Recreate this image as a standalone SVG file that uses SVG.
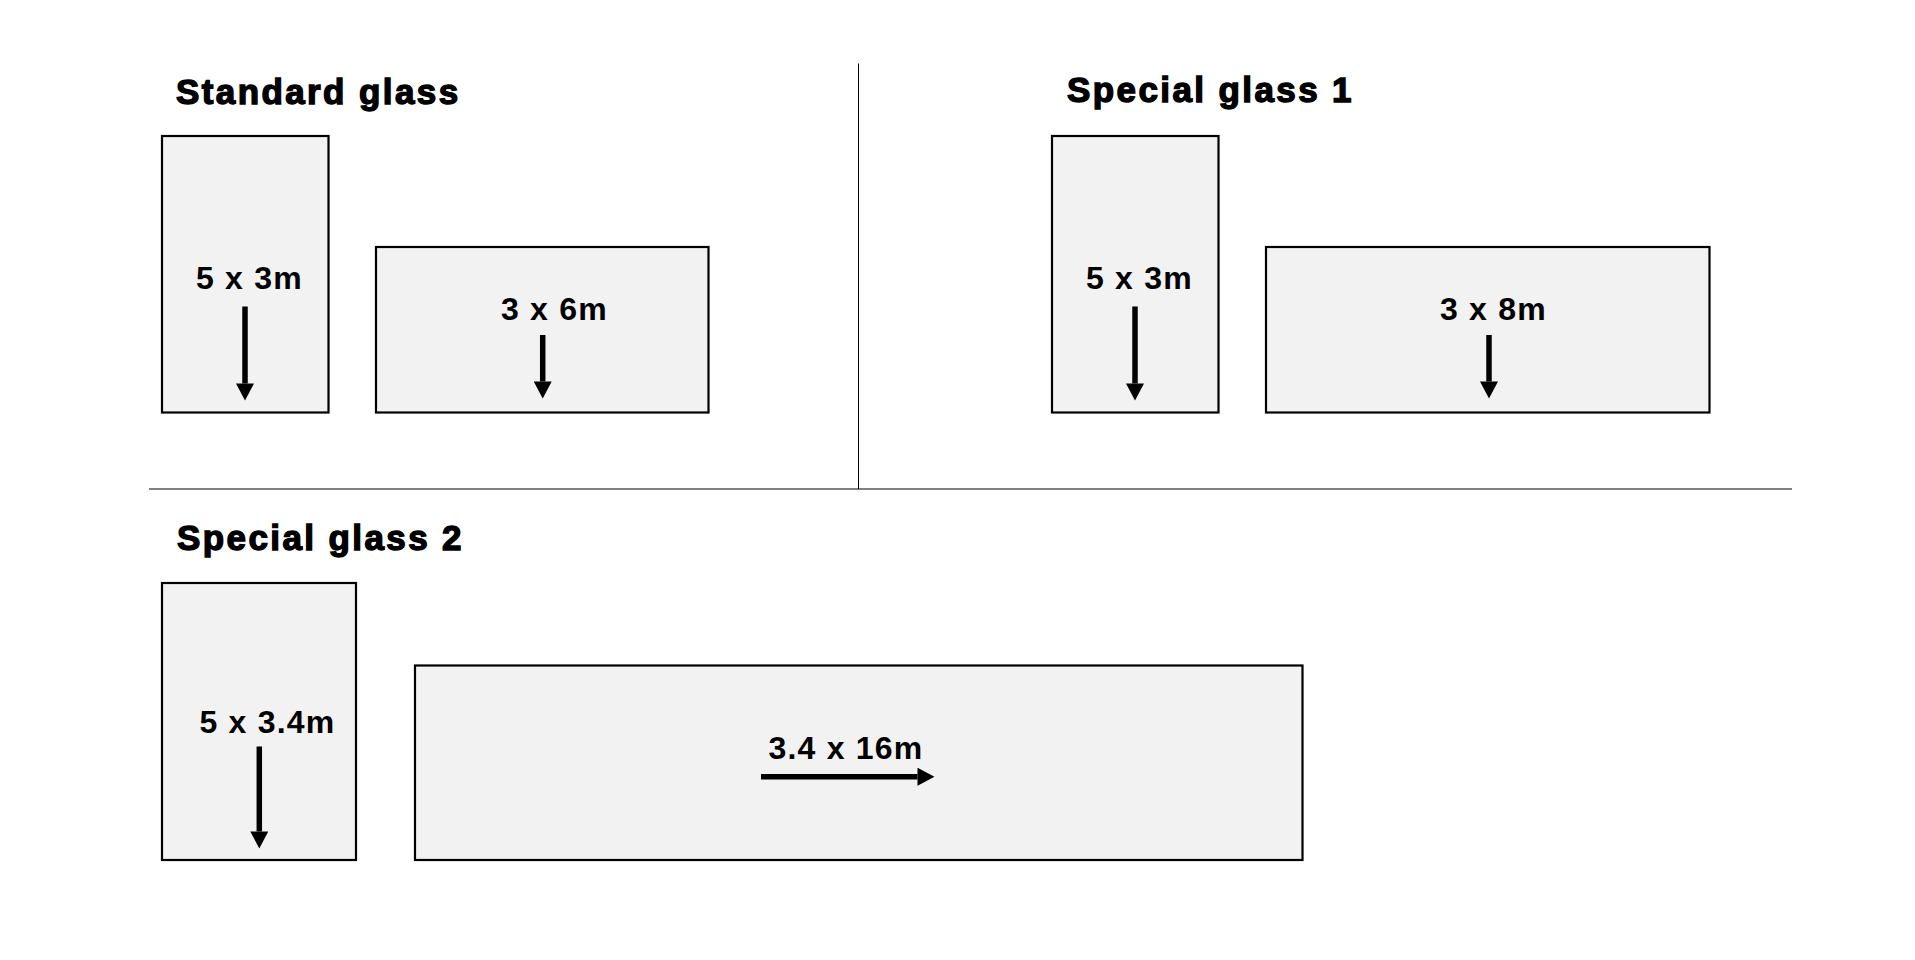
<svg xmlns="http://www.w3.org/2000/svg" width="1915" height="960" viewBox="0 0 1915 960">
  <style>
    .pane { fill: #f2f2f2; stroke: #000; stroke-width: 2.2; }
    .title { font-family: "Liberation Sans", Arial, sans-serif; font-weight: bold; font-size: 35px; letter-spacing: 2.4px; fill: #000; stroke: #000; stroke-width: 1.4; }
    .label { font-family: "Liberation Sans", Arial, sans-serif; font-weight: bold; font-size: 32px; letter-spacing: 1.2px; fill: #000; }
    .shaft { stroke: #000; stroke-width: 5.5; fill: none; marker-end: url(#head); }
    .divider { stroke: #000; stroke-width: 1; fill: none; }
  </style>
  <defs>
    <marker id="head" markerUnits="userSpaceOnUse" markerWidth="18" markerHeight="18" refX="0" refY="9" orient="auto" viewBox="0 0 17 18">
      <path d="M0,0 L17,9 L0,18 Z" fill="#000"/>
    </marker>
  </defs>
  <rect width="1915" height="960" fill="#fff"/>

  <g id="dividers">
    <line class="divider" x1="858.5" y1="63.5" x2="858.5" y2="489"/>
    <line class="divider" x1="149" y1="489" x2="1792" y2="489"/>
  </g>

  <g id="title-standard">
    <text class="title" x="176" y="104">Standard glass</text>
  </g>
  <g id="title-special1">
    <text class="title" x="1067" y="101.5">Special glass 1</text>
  </g>
  <g id="title-special2">
    <text class="title" x="177" y="550">Special glass 2</text>
  </g>

  <g id="std-pane-5x3">
    <rect class="pane" x="162" y="136" width="166.5" height="276.5"/>
    <text class="label" x="196" y="288.5">5 x 3m</text>
    <line class="shaft" x1="245" y1="306.5" x2="245" y2="383.5"/>
  </g>
  <g id="std-pane-3x6">
    <rect class="pane" x="376" y="247" width="332.5" height="165.5"/>
    <text class="label" x="501" y="319.5">3 x 6m</text>
    <line class="shaft" x1="542.7" y1="335" x2="542.7" y2="381.5"/>
  </g>

  <g id="sp1-pane-5x3">
    <rect class="pane" x="1052" y="136" width="166.5" height="276.5"/>
    <text class="label" x="1086" y="288.5">5 x 3m</text>
    <line class="shaft" x1="1135" y1="306.5" x2="1135" y2="383.5"/>
  </g>
  <g id="sp1-pane-3x8">
    <rect class="pane" x="1266" y="247" width="443.5" height="165.5"/>
    <text class="label" x="1440" y="319.5">3 x 8m</text>
    <line class="shaft" x1="1489" y1="335" x2="1489" y2="381.5"/>
  </g>

  <g id="sp2-pane-5x3.4">
    <rect class="pane" x="162" y="583" width="194" height="277"/>
    <text class="label" x="199.5" y="732.5">5 x 3.4m</text>
    <line class="shaft" x1="259.3" y1="746.5" x2="259.3" y2="831.5"/>
  </g>
  <g id="sp2-pane-3.4x16">
    <rect class="pane" x="415" y="665.5" width="887.5" height="194.5"/>
    <text class="label" x="768.5" y="759">3.4 x 16m</text>
    <line class="shaft" x1="761" y1="776.7" x2="917.5" y2="776.7"/>
  </g>
</svg>
